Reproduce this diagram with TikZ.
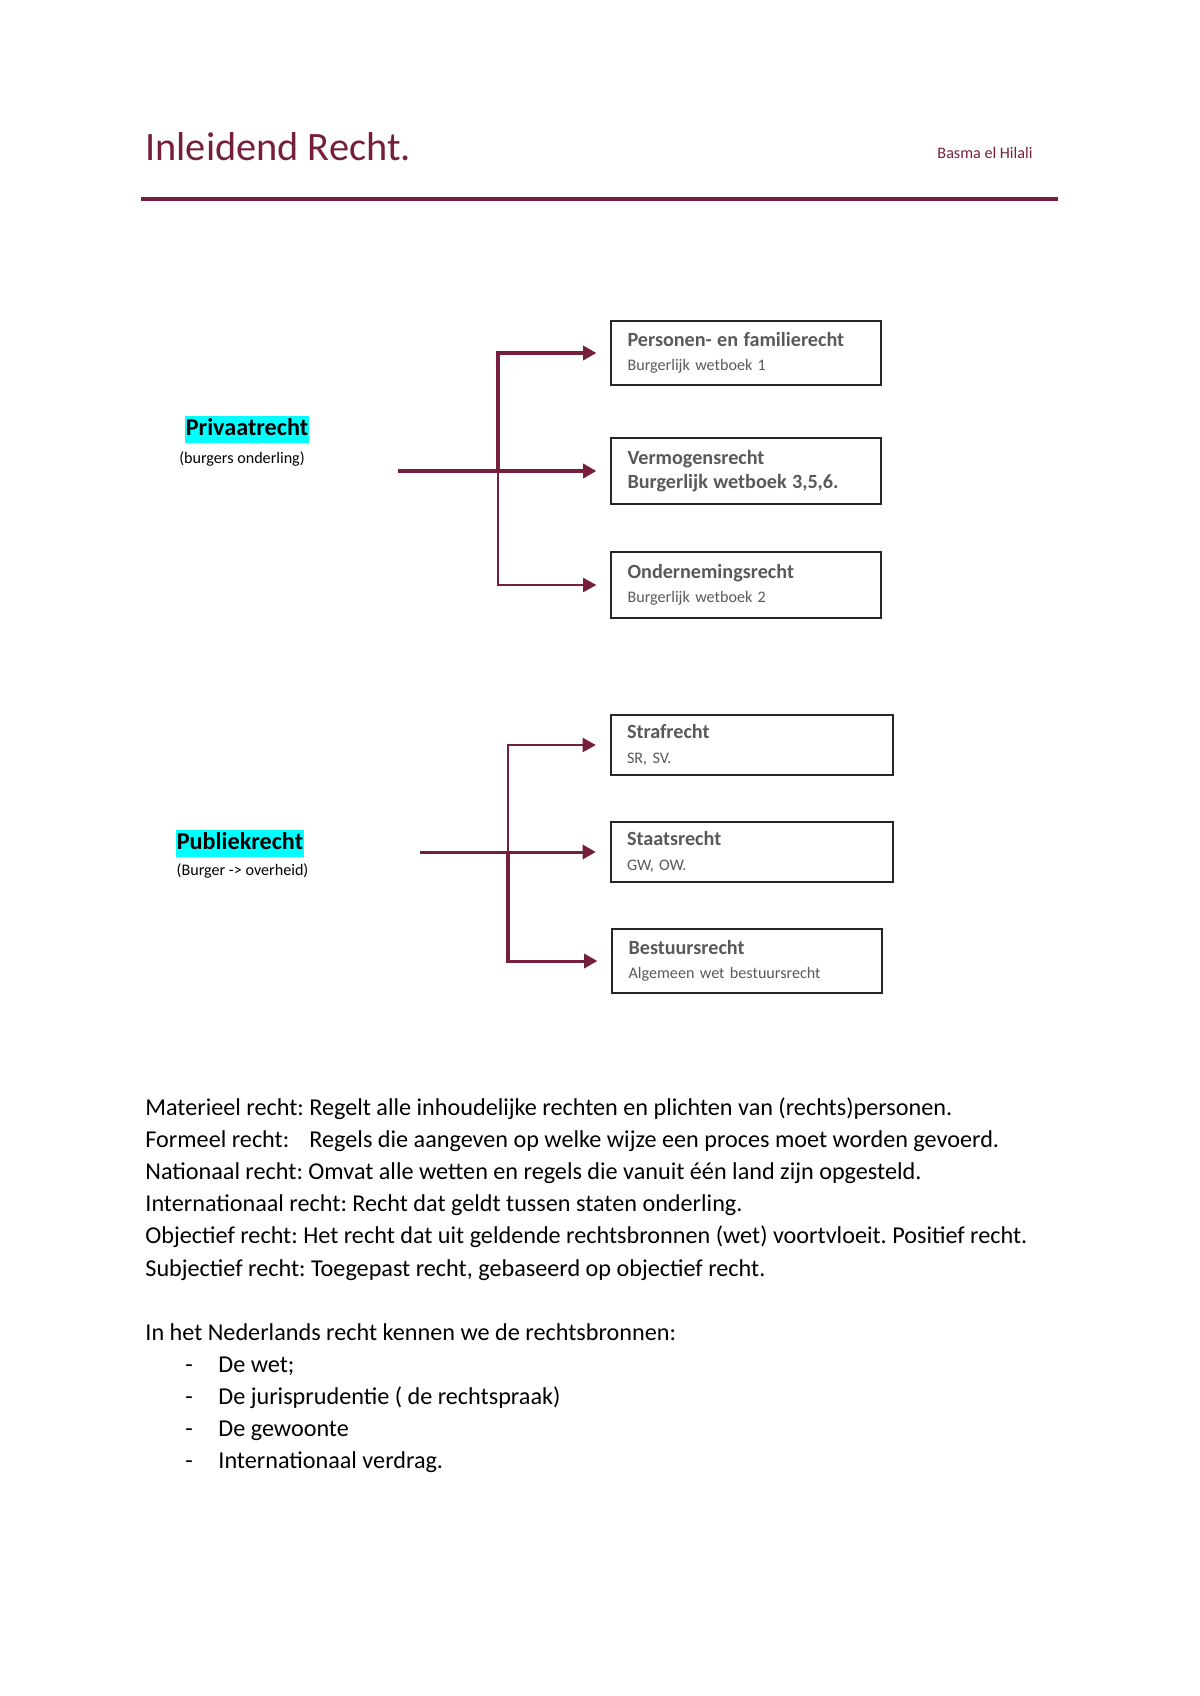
\documentclass[tikz,border=0pt]{standalone}
\usepackage{fontspec}
\setmainfont{Carlito}
\usetikzlibrary{arrows.meta}
\definecolor{maroon}{RGB}{118,30,61}
\definecolor{boxgrey}{RGB}{89,89,89}
\definecolor{marker}{RGB}{0,255,255}
\tikzstyle{lawbox}=[rectangle,draw=black!85,line width=1pt,inner xsep=8pt,inner ysep=0pt,align=left,text=boxgrey,font=\fontsize{8}{12}\selectfont]
\tikzstyle{mainlabel}=[fill=marker,inner xsep=0.5pt,inner ysep=0pt,text height=9.6pt,text depth=3.4pt,font=\bfseries\fontsize{12}{14}\selectfont]
\tikzstyle{sublabel}=[inner sep=0pt,font=\fontsize{8}{10}\selectfont]
\tikzstyle{bodytext}=[anchor=base west,inner sep=0pt,font=\frenchspacing\fontsize{12}{14}\selectfont]
\tikzstyle{thickbranch}=[draw=maroon,line width=1.5pt,-{Triangle[length=6.5pt,width=7pt]},shorten >=7pt]
\tikzstyle{thinbranch}=[draw=maroon,line width=0.7pt,-{Triangle[length=6.5pt,width=7pt]},shorten >=7pt]

\begin{document}
\begin{tikzpicture}[x=0.496pt,y=-0.496pt]
\useasboundingbox (0,0) rectangle (1200,1696);

    % Header
    \node[anchor=base west,inner sep=0pt,text=maroon,font=\fontsize{20}{24}\selectfont] (title) at (145,160) {Inleidend Recht.};
    \node[inner sep=0pt,text=maroon,font=\fontsize{8}{10}\selectfont] (author) at (985,153) {Basma el Hilali};
    \draw[maroon,line width=2.2pt] (141,199) -- (1058,199);

    % The two main branches
    \node[mainlabel] (priv) at (247,429.5) {Privaatrecht};
    \node[sublabel] (privsub) at (242,459) {(burgers onderling)};
    \node[mainlabel] (publ) at (240,843.5) {Publiekrecht};
    \node[sublabel] (publsub) at (242.5,871) {(Burger -> overheid)};

    % Boxes with the fields of law
    \foreach \pos/\name/\bw/\bh/\headtxt/\subtxt in {{(746,353)/PF/133.5/31.7/{Personen- en familierecht}/{Burgerlijk wetboek 1}}, {(746,471)/VR/133.5/33.2/{Vermogensrecht}/{\bfseries\fontsize{10}{12}\selectfont Burgerlijk wetboek 3,5,6.}}, {(746,585)/OR/133.5/33.2/{Ondernemingsrecht}/{Burgerlijk wetboek 2}}, {(752,745)/SR/140/29.8/{Strafrecht}/{SR, SV.}}, {(752,852)/ST/140/29.8/{Staatsrecht}/{GW, OW.}}, {(747,961)/BR/133.5/32.2/{Bestuursrecht}/{Algemeen wet bestuursrecht}}}
    {
        \pgfmathsetmacro\tw{\bw-16}
        \node[lawbox,minimum width=\bw pt,minimum height=\bh pt,text width=\tw pt] (\name) at \pos {{\bfseries\fontsize{10}{12}\selectfont \headtxt}\\{\subtxt}};
    }

    % Arrows privaatrecht
    \coordinate (pstart) at (398,0 |- VR.west);
    \coordinate (pj) at (498,0 |- VR.west);
    \draw[thickbranch] (pstart) -- (VR.west);
    \draw[thickbranch] (pj) |- (PF.west);
    \draw[thinbranch] (pj) |- (OR.west);

    % Arrows publiekrecht
    \coordinate (qstart) at (420,0 |- ST.west);
    \coordinate (qj) at (508,0 |- ST.west);
    \draw[thickbranch] (qstart) -- (ST.west);
    \draw[thinbranch,line width=1.1pt] (qj) |- (SR.west);
    \draw[thickbranch] (qj) |- (BR.west);

    % Text below
    \foreach \i/\txt in {1/{Materieel recht: Regelt alle inhoudelijke rechten en plichten van (rechts)personen.}, 2/{Formeel recht:\hspace{10pt}Regels die aangeven op welke wijze een proces moet worden gevoerd.}, 3/{Nationaal recht: Omvat alle wetten en regels die vanuit één land zijn opgesteld.}, 4/{Internationaal recht: Recht dat geldt tussen staten onderling.}, 5/{Objectief recht: Het recht dat uit geldende rechtsbronnen (wet) voortvloeit. Positief recht.}, 6/{Subjectief recht: Toegepast recht, gebaseerd op objectief recht.}, 8/{In het Nederlands recht kennen we de rechtsbronnen:}}
        \node[bodytext] (line\i) at (145,{1115+32.2*(\i-1)}) {\txt};

    \foreach \i/\txt in {1/{De wet;}, 2/{De jurisprudentie ( de rechtspraak)}, 3/{De gewoonte}, 4/{Internationaal verdrag.}}
    {
        \node[bodytext] (dash\i) at (185,{1372+32.2*(\i-1)}) {-};
        \node[bodytext] (item\i) at (218,{1372+32.2*(\i-1)}) {\txt};
    }

\end{tikzpicture}
\end{document}
